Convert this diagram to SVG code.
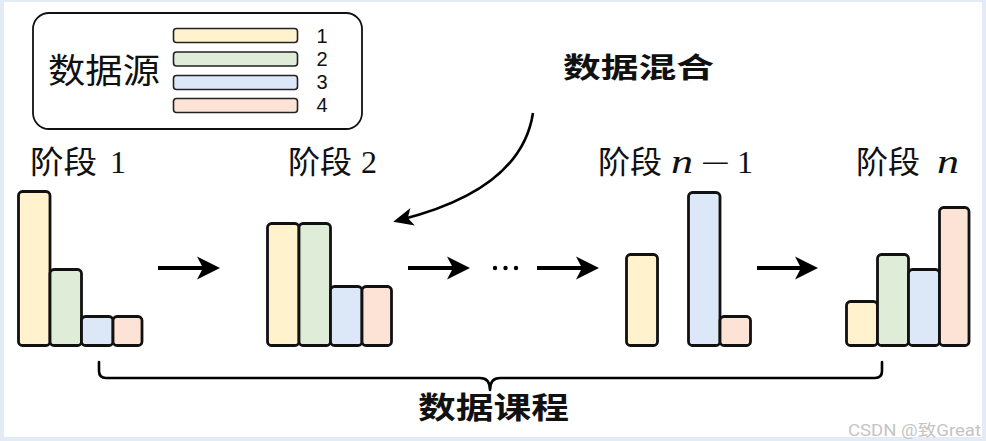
<svg xmlns="http://www.w3.org/2000/svg" width="986" height="441" viewBox="0 0 986 441">
  <style>
    .bar { stroke: #111; stroke-width: 2.8; stroke-linejoin: round; }
    .c1 { fill: #fff2cc; }
    .c2 { fill: #dfecd8; }
    .c3 { fill: #dce8f7; }
    .c4 { fill: #fde3d6; }
    .leg { stroke: #222; stroke-width: 1.6; }
    .cjk { font-family: "Noto Sans CJK SC", sans-serif; fill: #111; }
    .bold { font-weight: bold; }
    .num { font-family: "Liberation Serif", serif; fill: #111; font-size: 32px; }
    .it { font-style: italic; font-size: 34px; }
    .lnum { font-family: "Liberation Sans", Arial, sans-serif; font-size: 20px; fill: #111; text-anchor: middle; }
    .flow { stroke: #000; stroke-width: 4; fill: none; marker-end: url(#bigHead); }
    .mix { stroke: #000; stroke-width: 2.6; fill: none; marker-end: url(#smallHead); }
    .brace { stroke: #000; stroke-width: 2.6; fill: none; stroke-linecap: round; stroke-linejoin: round; }
  </style>
  <defs>
    <marker id="bigHead" markerUnits="userSpaceOnUse" viewBox="-14 -12 25 24" markerWidth="25" markerHeight="24" refX="0" refY="0" orient="auto">
      <path d="M10,0 L-13,-11.5 L-7,0 L-13,11.5 Z" fill="#000"/>
    </marker>
    <marker id="smallHead" markerUnits="userSpaceOnUse" viewBox="-14 -10 22 20" markerWidth="22" markerHeight="20" refX="0" refY="0" orient="auto">
      <path d="M7,0 L-13,-9 L-8,0 L-13,9 Z" fill="#000"/>
    </marker>
  </defs>

  <!-- page frame -->
  <rect x="0" y="0" width="986" height="441" fill="#e3ebf5"/>
  <rect x="4" y="2" width="978" height="435" fill="#fff"/>

  <!-- legend: data sources -->
  <g id="legend">
    <rect x="33" y="13" width="329" height="116" rx="16" fill="#fff" stroke="#111" stroke-width="1.8"/>
    <text class="cjk" x="48" y="82.5" font-size="34" textLength="112" lengthAdjust="spacingAndGlyphs">数据源</text>
    <rect class="leg c1" x="173.5" y="28.5" width="124" height="14" rx="3"/>
    <rect class="leg c2" x="173.5" y="52" width="124" height="14" rx="3"/>
    <rect class="leg c3" x="173.5" y="75.5" width="124" height="14" rx="3"/>
    <rect class="leg c4" x="173.5" y="98.5" width="124" height="14" rx="3"/>
    <text class="lnum" x="322" y="43">1</text>
    <text class="lnum" x="322" y="65.5">2</text>
    <text class="lnum" x="322" y="89">3</text>
    <text class="lnum" x="322" y="112">4</text>
  </g>

  <!-- stage 1 -->
  <g id="stage1">
    <text class="cjk" x="30" y="173" font-size="31" textLength="67" lengthAdjust="spacingAndGlyphs">阶段</text>
    <text class="num" x="110" y="173">1</text>
    <rect class="bar c1" x="18.5" y="191.5" width="31.5" height="154" rx="4"/>
    <rect class="bar c2" x="50" y="269.5" width="31.5" height="76" rx="4"/>
    <rect class="bar c3" x="81.5" y="316.5" width="31.5" height="29" rx="4"/>
    <rect class="bar c4" x="113" y="316.5" width="29" height="29" rx="4"/>
  </g>

  <!-- stage 2 -->
  <g id="stage2">
    <text class="cjk" x="288" y="173" font-size="31" textLength="64" lengthAdjust="spacingAndGlyphs">阶段</text>
    <text class="num" x="361" y="173">2</text>
    <rect class="bar c1" x="267.5" y="223.5" width="31.5" height="122" rx="4"/>
    <rect class="bar c2" x="299" y="223.5" width="31.5" height="122" rx="4"/>
    <rect class="bar c3" x="330.5" y="286.5" width="31.5" height="59" rx="4"/>
    <rect class="bar c4" x="362" y="286.5" width="29.5" height="59" rx="4"/>
  </g>

  <!-- stage n-1 -->
  <g id="stageN1">
    <text class="cjk" x="598" y="173" font-size="31" textLength="64" lengthAdjust="spacingAndGlyphs">阶段</text>
    <text class="num it" x="671" y="173" textLength="22" lengthAdjust="spacingAndGlyphs">n</text>
    <text class="num" x="700" y="174" textLength="30" lengthAdjust="spacingAndGlyphs">−</text>
    <text class="num" x="737" y="173">1</text>
    <rect class="bar c1" x="626.5" y="254.5" width="31" height="91" rx="4"/>
    <rect class="bar c3" x="688.5" y="192.5" width="31.5" height="153" rx="4"/>
    <rect class="bar c4" x="720" y="316.5" width="30.5" height="29" rx="4"/>
  </g>

  <!-- stage n -->
  <g id="stageN">
    <text class="cjk" x="856" y="173" font-size="31" textLength="64" lengthAdjust="spacingAndGlyphs">阶段</text>
    <text class="num it" x="937" y="173" textLength="22" lengthAdjust="spacingAndGlyphs">n</text>
    <rect class="bar c1" x="846.5" y="301.5" width="31" height="44" rx="4"/>
    <rect class="bar c2" x="877.5" y="254.5" width="31" height="91" rx="4"/>
    <rect class="bar c3" x="908.5" y="269.5" width="31" height="76" rx="4"/>
    <rect class="bar c4" x="939.5" y="207.5" width="29.5" height="138" rx="4"/>
  </g>

  <!-- data mixing label -->
  <g id="mixLabel">
    <text class="cjk bold" x="563" y="78" font-size="28" textLength="151" lengthAdjust="spacingAndGlyphs">数据混合</text>
  </g>

  <!-- curriculum label -->
  <g id="curriculumLabel">
    <text class="cjk bold" x="418" y="418" font-size="30" textLength="151" lengthAdjust="spacingAndGlyphs">数据课程</text>
  </g>

  <!-- connectors -->
  <g id="connectors">
    <line class="flow" x1="158" y1="268" x2="210" y2="268"/>
    <line class="flow" x1="408" y1="268" x2="460" y2="268"/>
    <line class="flow" x1="537" y1="268" x2="589" y2="268"/>
    <line class="flow" x1="757" y1="268" x2="808" y2="268"/>
    <path class="mix" d="M533,113 C525,165 480,200 400,220"/>
    <path class="brace" d="M99,362 V371 Q99,378 106,378 H480 Q490,378 490,390 Q490,378 500,378 H875 Q882,378 882,371 V362"/>
  </g>

  <!-- ellipsis between stages -->
  <g id="ellipsis" fill="#000">
    <circle cx="495" cy="268" r="2.2"/>
    <circle cx="505.5" cy="268" r="2.2"/>
    <circle cx="516" cy="268" r="2.2"/>
  </g>

  <!-- watermark -->
  <text x="848" y="436" font-family="Roboto, 'Noto Sans CJK SC', sans-serif" font-size="16" fill="#c4c4c4" textLength="133" lengthAdjust="spacingAndGlyphs">CSDN @致Great</text>
</svg>
